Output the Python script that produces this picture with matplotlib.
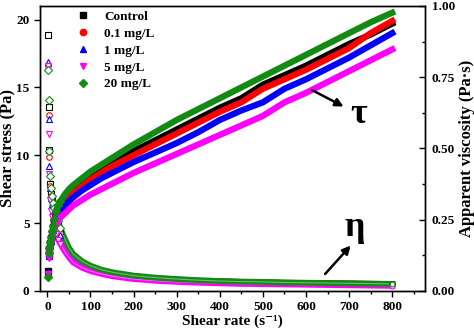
import matplotlib
matplotlib.use("Agg")
import matplotlib.pyplot as plt
import numpy as np

plt.rcParams['font.family'] = ['Liberation Serif', 'DejaVu Serif']
plt.rcParams['font.weight'] = 'bold'

# shear rate (1/s) at the read-off points
rate = [1.5, 3, 5, 7, 9, 11, 13, 16, 20, 25, 30, 40, 50, 60, 80, 100, 125, 150,
        200, 250, 300, 350, 400, 450, 500, 550, 600, 650, 700, 750, 800]

labels = ["Control", "0.1 mg/L", "1 mg/L", "5 mg/L", "20 mg/L"]
colors = ["black", "#ff0000", "#0000ff", "#ff00ff", "#138a13"]
markers = ["s", "o", "^", "v", "D"]

# shear stress (Pa)
tau_control = [1.5, 2.7, 3.1, 3.5, 3.9, 4.3, 4.7, 5.1, 5.6, 6.0, 6.3, 6.8, 7.1, 7.4, 7.9, 8.4,
               8.9, 9.4, 10.3, 11.1, 11.9, 12.7, 13.5, 14.2, 15.2, 15.9, 16.6, 17.4, 18.2, 18.9, 19.7]
tau_01 = [1.35, 2.65, 3.0, 3.4, 3.8, 4.2, 4.6, 5.0, 5.5, 5.9, 6.2, 6.6, 6.9, 7.2, 7.7, 8.2,
          8.7, 9.2, 10.0, 10.8, 11.6, 12.4, 13.2, 13.9, 14.9, 15.6, 16.3, 17.1, 17.9, 19.0, 19.9]
tau_1 = [1.4, 2.6, 2.9, 3.3, 3.7, 4.1, 4.5, 4.9, 5.3, 5.6, 5.9, 6.3, 6.6, 6.9, 7.4, 7.8,
         8.3, 8.7, 9.5, 10.2, 10.9, 11.7, 12.6, 13.3, 13.9, 14.9, 15.6, 16.4, 17.2, 18.1, 19.0]
tau_5 = [1.25, 2.45, 2.8, 3.1, 3.5, 3.9, 4.2, 4.6, 4.9, 5.2, 5.4, 5.7, 6.0, 6.3, 6.7, 7.1,
         7.5, 7.9, 8.7, 9.4, 10.1, 10.8, 11.5, 12.2, 12.9, 13.9, 14.6, 15.4, 16.2, 17.0, 17.8]
tau_20 = [1.05, 2.8, 3.2, 3.6, 4.0, 4.4, 4.8, 5.3, 5.9, 6.3, 6.6, 7.1, 7.5, 7.8, 8.3, 8.8,
          9.3, 9.8, 10.8, 11.7, 12.6, 13.4, 14.2, 15.0, 15.8, 16.6, 17.4, 18.2, 19.0, 19.8, 20.5]

# apparent viscosity (Pa*s)
eta_control = [0.898, 0.645, 0.495, 0.376, 0.34, 0.32, 0.30, 0.28, 0.26, 0.235, 0.21, 0.175, 0.144,
               0.125, 0.10, 0.085, 0.072, 0.063, 0.052, 0.044, 0.040, 0.036, 0.034, 0.032, 0.030,
               0.029, 0.028, 0.027, 0.026, 0.025, 0.0245]
eta_01 = [0.791, 0.616, 0.47, 0.37, 0.335, 0.315, 0.295, 0.275, 0.255, 0.23, 0.205, 0.17, 0.14,
          0.122, 0.098, 0.083, 0.07, 0.062, 0.051, 0.043, 0.039, 0.035, 0.033, 0.031, 0.030,
          0.028, 0.027, 0.026, 0.026, 0.025, 0.0245]
eta_1 = [0.804, 0.605, 0.44, 0.36, 0.325, 0.305, 0.285, 0.265, 0.245, 0.22, 0.198, 0.162, 0.134,
         0.116, 0.094, 0.079, 0.067, 0.059, 0.048, 0.041, 0.037, 0.034, 0.032, 0.030, 0.028,
         0.027, 0.026, 0.025, 0.025, 0.024, 0.024]
eta_5 = [0.79, 0.552, 0.41, 0.32, 0.28, 0.26, 0.24, 0.22, 0.20, 0.18, 0.165, 0.14, 0.118, 0.10,
         0.082, 0.07, 0.06, 0.052, 0.042, 0.036, 0.032, 0.029, 0.027, 0.025, 0.024, 0.023,
         0.022, 0.021, 0.020, 0.019, 0.018]
eta_20 = [0.775, 0.669, 0.49, 0.405, 0.36, 0.334, 0.31, 0.29, 0.27, 0.246, 0.22, 0.185, 0.152,
          0.13, 0.105, 0.089, 0.075, 0.066, 0.054, 0.047, 0.042, 0.038, 0.035, 0.033, 0.032,
          0.030, 0.029, 0.028, 0.027, 0.026, 0.025]

taus = [tau_control, tau_01, tau_1, tau_5, tau_20]
etas = [eta_control, eta_01, eta_1, eta_5, eta_20]

fig = plt.figure(figsize=(4.74, 3.32), dpi=100)
ax = fig.add_axes([0.0844, 0.1235, 0.8122, 0.8585])
ax2 = ax.twinx()

r = np.array(rate)
hi = r >= 20
lo = r <= 30
for t, e, c, m, lab in zip(taus, etas, colors, markers, labels):
    t = np.array(t)
    e = np.array(e)
    # viscosity: open symbols, merging into a band
    ax2.plot(r[hi], e[hi], '-', color=c, lw=4.2, zorder=1)
    ax2.plot(r[hi], e[hi], '-', color='white', lw=0.8, alpha=0.4, zorder=1)
    ax2.plot(r[lo], e[lo], ls='none', marker=m, ms=4, mfc='white', mec=c, mew=0.8, zorder=2)
    ax2.plot(r[-1:], e[-1:], ls='none', marker='o', ms=3.5, mfc='white', mec=c, mew=0.8, zorder=2)
    # stress: filled symbols, merging into a thick line
    ax.plot(r[hi], t[hi], '-', color=c, lw=4.5, zorder=3)
    ax.plot(r[lo], t[lo], ls='none', marker=m, ms=3.8, color=c, zorder=3, label=lab)

ax.set_zorder(ax2.get_zorder() + 1)
ax.patch.set_visible(False)

ax.set_xticks(np.arange(0, 801, 100))
ax.set_xticks(np.arange(50, 851, 100), minor=True)
ax.set_yticks([0, 5, 10, 15, 20])
ax2.set_yticks([0, 0.25, 0.5, 0.75, 1.0])
ax2.set_yticks(np.arange(0.125, 1.0, 0.25), minor=True)
ax2.set_yticklabels(["0.00", "0.25", "0.50", "0.75", "1.00"])
ax.set_xlim(-17, 876)
ax.set_ylim(0, 21)
ax2.set_ylim(0, 1.0)

ax.tick_params(axis='both', which='major', labelsize=9.5, length=4, width=1, direction='out')
ax.tick_params(axis='x', which='minor', length=2.5, width=1, direction='out')
ax2.tick_params(axis='y', which='major', labelsize=9.5, length=4, width=1, direction='in', pad=5)
ax2.tick_params(axis='y', which='minor', length=2.5, width=1, direction='in')
for a in (ax, ax2):
    for s in a.spines.values():
        s.set_linewidth(1.0)
    for lbl in a.get_xticklabels() + a.get_yticklabels():
        lbl.set_fontweight('bold')

ax.set_xlabel("Shear rate (s⁻¹)", fontsize=11, fontweight='bold', labelpad=1)
ax.set_ylabel("Shear stress (Pa)", fontsize=12, fontweight='bold', labelpad=1)
ax2.set_ylabel("Apparent viscosity (Pa·s)", fontsize=12, fontweight='bold', labelpad=3)

leg = ax.legend(loc='upper left', bbox_to_anchor=(0.06, 1.025), frameon=False,
                handlelength=1.2, handletextpad=1.0, labelspacing=0.35, markerscale=1.2,
                prop={'weight': 'bold', 'size': 9.5})

ax.text(722, 13.0, "τ", fontsize=26, fontweight='bold', ha='center', va='center')
ax.annotate("", xy=(693, 13.5), xytext=(608, 14.9),
            arrowprops=dict(arrowstyle='-|>', color='black', lw=1.8, mutation_scale=12))
ax.text(712, 4.7, "η", fontsize=26, fontweight='bold', ha='center', va='center')
ax.annotate("", xy=(708, 3.5), xytext=(640, 1.1),
            arrowprops=dict(arrowstyle='-|>', color='black', lw=1.8, mutation_scale=12))

fig.savefig("out.png", dpi=100)
